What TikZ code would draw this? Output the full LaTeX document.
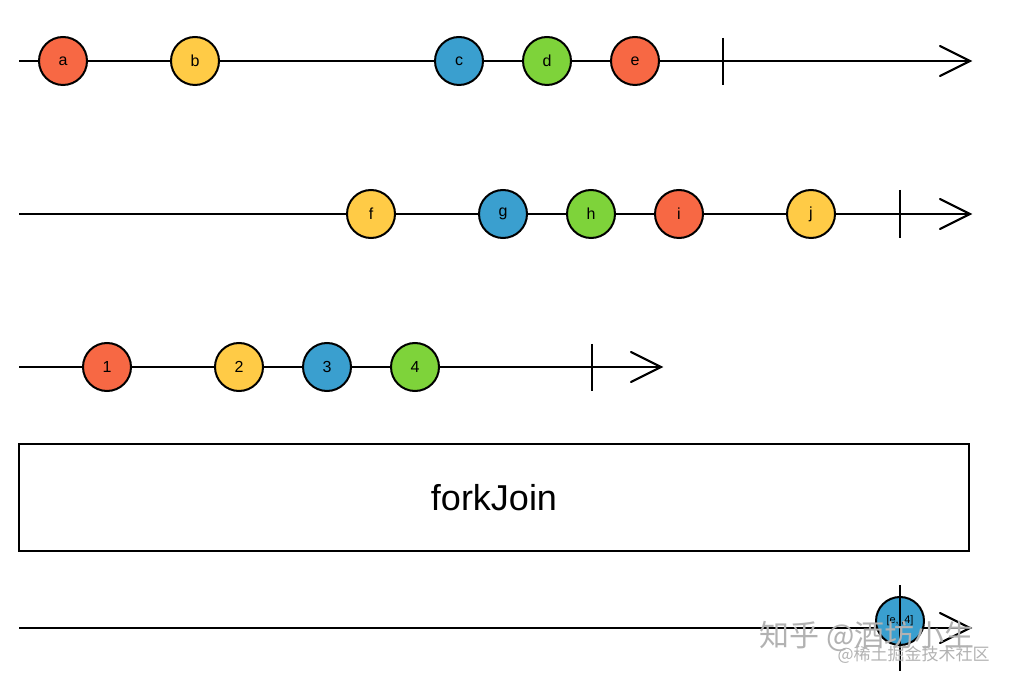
\documentclass[tikz,border=0pt]{standalone}
\usepackage{fontspec}
\setmainfont{Liberation Sans}
\newfontfamily\cjk{Noto Sans CJK SC}
\begin{document}
\begin{tikzpicture}[x=1pt,y=-1pt,
  tl/.style={line width=2.2pt},
  chev/.style={line width=2.2pt, line cap=round, line join=miter},
  marble/.style={circle, draw=black, line width=2pt, minimum size=48pt, inner sep=0pt, font=\fontsize{16}{16}\selectfont},
  red/.style={marble, fill={rgb,255:red,247;green,104;blue,68}},
  yel/.style={marble, fill={rgb,255:red,255;green,203;blue,70}},
  blu/.style={marble, fill={rgb,255:red,58;green,159;blue,207}},
  grn/.style={marble, fill={rgb,255:red,126;green,211;blue,58}},
]
\useasboundingbox (0,0) rectangle (1015,684);
% line 1
\coordinate (s1) at (19,61); \coordinate (e1) at (970,61);
\draw[tl] (s1) -- (e1);
\draw[chev] (940,46) -- (e1) -- (940,76);
\draw[tl] (723,38) -- (723,85);
\node[red] (a) at (63,61) {\raisebox{-0.5ex}{a}};
\node[yel] (b) at (195,61) {b};
\node[blu] (c) at (459,61) {c};
\node[grn] (d) at (547,61) {d};
\node[red] (e) at (635,61) {\raisebox{-0.5ex}{e}};
% line 2
\coordinate (s2) at (19,214); \coordinate (e2) at (970,214);
\draw[tl] (s2) -- (e2);
\draw[chev] (940,199) -- (e2) -- (940,229);
\draw[tl] (900,190) -- (900,238);
\node[yel] (f) at (371,214) {f};
\node[blu] (g) at (503,214) {g};
\node[grn] (h) at (591,214) {h};
\node[red] (i) at (679,214) {i};
\node[yel] (j) at (811,214) {j};
% line 3
\coordinate (s3) at (19,367); \coordinate (e3) at (661,367);
\draw[tl] (s3) -- (e3);
\draw[chev] (631,352) -- (e3) -- (631,382);
\draw[tl] (592,344) -- (592,391);
\node[red] (n1) at (107,367) {1};
\node[yel] (n2) at (239,367) {2};
\node[blu] (n3) at (327,367) {3};
\node[grn] (n4) at (415,367) {4};
% box
\node[draw=black, line width=2pt, minimum width=950pt, minimum height=107pt, inner sep=0pt, font=\fontsize{36}{36}\selectfont] (fj) at (494,497.5) {forkJoin};
% line 5
\coordinate (s5) at (19,628); \coordinate (e5) at (970,628);
\draw[tl] (s5) -- (e5);
\draw[chev] (940,613) -- (e5) -- (940,643);
\node[blu, font=\fontsize{11}{11}\selectfont] (res) at (900,621) {[e,j,4]};
\draw[tl] (900,585) -- (900,671);
% watermark
\node[anchor=west, text=black!30, font=\cjk\fontsize{30}{30}\selectfont] (wm1) at (756,636) {知乎 @酒坊小生};
\node[anchor=west, text=black!30, font=\cjk\fontsize{17}{17}\selectfont] (wm2) at (834,655) {@稀土掘金技术社区};
\end{tikzpicture}
\end{document}
